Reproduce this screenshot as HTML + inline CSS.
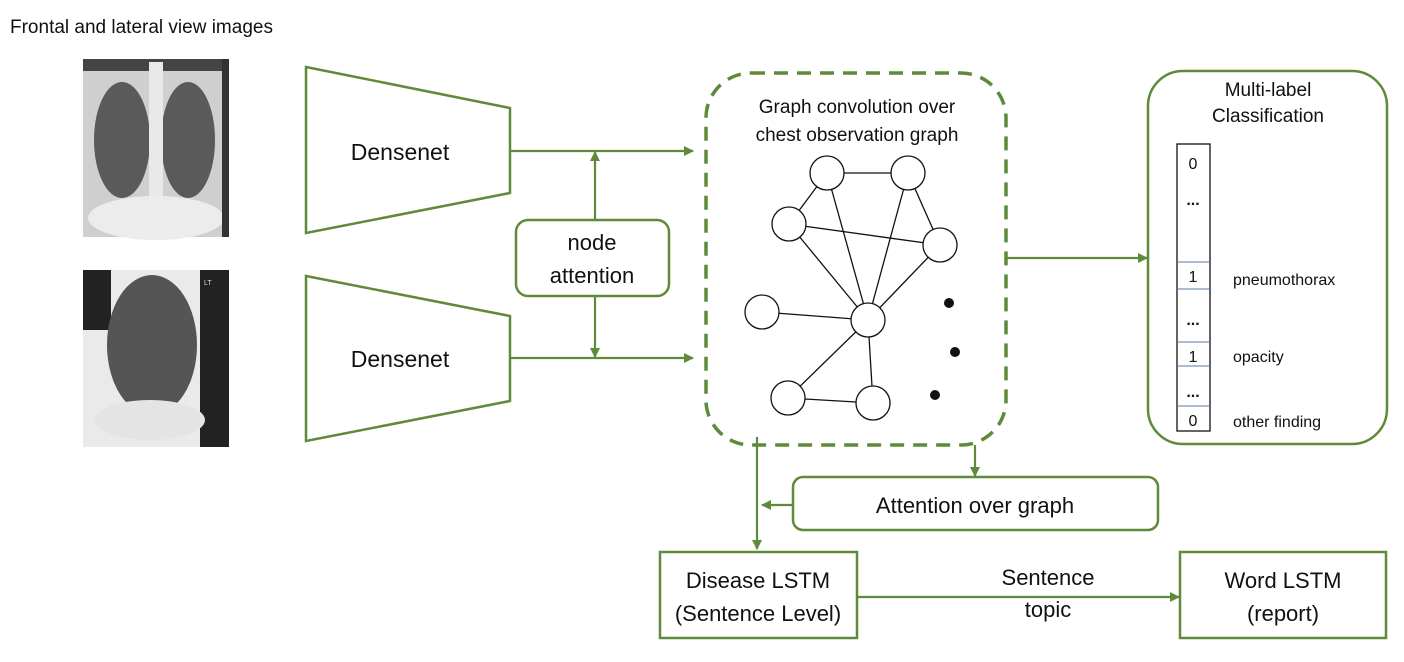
<!DOCTYPE html>
<html><head><meta charset="utf-8"><style>
html,body{margin:0;padding:0;background:#fff;}
svg{display:block;}
text{font-family:"Liberation Sans",sans-serif;fill:#111;}
</style></head><body>
<svg width="1404" height="662" viewBox="0 0 1404 662" xmlns="http://www.w3.org/2000/svg">
<defs>
<marker id="ah" markerWidth="10" markerHeight="10" refX="9" refY="5" orient="auto" markerUnits="userSpaceOnUse">
<path d="M0,0 L10,5 L0,10 z" fill="#5f8a3a"/>
</marker>
<radialGradient id="lung" cx="50%" cy="45%" r="60%">
<stop offset="0" stop-color="#777"/><stop offset="0.6" stop-color="#555"/><stop offset="1" stop-color="#bbb"/>
</radialGradient>
<linearGradient id="belly" x1="0" y1="0" x2="0" y2="1">
<stop offset="0" stop-color="#666"/><stop offset="0.7" stop-color="#ddd"/><stop offset="1" stop-color="#eee"/>
</linearGradient>
</defs>
<rect width="1404" height="662" fill="#fff"/>
<text x="10" y="33" font-size="19">Frontal and lateral view images</text>

<!-- frontal xray -->
<rect x="83" y="59" width="146" height="178" fill="#cfcfcf"/>
<rect x="83" y="59" width="146" height="12" fill="#444"/>
<ellipse cx="122" cy="140" rx="28" ry="58" fill="#5a5a5a"/>
<ellipse cx="188" cy="140" rx="27" ry="58" fill="#5a5a5a"/>
<rect x="149" y="62" width="14" height="175" fill="#e8e8e8"/>
<ellipse cx="156" cy="218" rx="68" ry="22" fill="#ececec"/>
<rect x="222" y="59" width="7" height="178" fill="#333"/>

<!-- lateral xray -->
<rect x="83" y="270" width="146" height="177" fill="#eaeaea"/>
<rect x="83" y="270" width="28" height="60" fill="#222"/>
<rect x="200" y="270" width="29" height="177" fill="#222"/>
<ellipse cx="152" cy="345" rx="45" ry="70" fill="#555"/>
<ellipse cx="150" cy="420" rx="55" ry="20" fill="#e4e4e4"/>
<text x="204" y="285" font-size="7" style="fill:#ddd">LT</text>

<g fill="none" stroke="#5f8a3a" stroke-width="2.5">
<polygon points="306,67 510,108 510,193 306,233"/>
<polygon points="306,276 510,316 510,401 306,441"/>
<rect x="516" y="220" width="153" height="76" rx="12"/>
<rect x="706" y="73" width="300" height="372" rx="45" stroke-width="3.5" stroke-dasharray="14,9"/>
<rect x="1148" y="71" width="239" height="373" rx="35"/>
<rect x="793" y="477" width="365" height="53" rx="10"/>
<rect x="660" y="552" width="197" height="86"/>
<rect x="1180" y="552" width="206" height="86"/>
</g>
<g stroke="#5f8a3a" stroke-width="2.2" fill="none" marker-end="url(#ah)">
<line x1="510" y1="151" x2="693" y2="151"/>
<line x1="510" y1="358" x2="693" y2="358"/>
<line x1="595" y1="220" x2="595" y2="152"/>
<line x1="595" y1="296" x2="595" y2="357"/>
<line x1="1006" y1="258" x2="1147" y2="258"/>
<line x1="757" y1="437" x2="757" y2="549"/>
<line x1="975" y1="445" x2="975" y2="476"/>
<line x1="793" y1="505" x2="762" y2="505"/>
<line x1="857" y1="597" x2="1179" y2="597"/>
</g>

<text x="400" y="160" font-size="23" text-anchor="middle">Densenet</text>
<text x="400" y="367" font-size="23" text-anchor="middle">Densenet</text>
<text x="592" y="250" font-size="22" text-anchor="middle">node</text>
<text x="592" y="283" font-size="22" text-anchor="middle">attention</text>
<text x="857" y="113" font-size="19" text-anchor="middle">Graph convolution over</text>
<text x="857" y="141" font-size="19" text-anchor="middle">chest observation graph</text>

<g stroke="#111" stroke-width="1.3">
<line x1="827" y1="173" x2="908" y2="173"/>
<line x1="827" y1="173" x2="789" y2="224"/>
<line x1="827" y1="173" x2="868" y2="320"/>
<line x1="908" y1="173" x2="868" y2="320"/>
<line x1="908" y1="173" x2="940" y2="245"/>
<line x1="789" y1="224" x2="940" y2="245"/>
<line x1="789" y1="224" x2="868" y2="320"/>
<line x1="940" y1="245" x2="868" y2="320"/>
<line x1="762" y1="312" x2="868" y2="320"/>
<line x1="868" y1="320" x2="788" y2="398"/>
<line x1="868" y1="320" x2="873" y2="403"/>
<line x1="788" y1="398" x2="873" y2="403"/>
</g>
<g fill="#fff" stroke="#111" stroke-width="1.3">
<circle cx="827" cy="173" r="17"/><circle cx="908" cy="173" r="17"/>
<circle cx="789" cy="224" r="17"/><circle cx="940" cy="245" r="17"/>
<circle cx="762" cy="312" r="17"/><circle cx="868" cy="320" r="17"/>
<circle cx="788" cy="398" r="17"/><circle cx="873" cy="403" r="17"/>
</g>
<circle cx="949" cy="303" r="5" fill="#111"/>
<circle cx="955" cy="352" r="5" fill="#111"/>
<circle cx="935" cy="395" r="5" fill="#111"/>

<text x="1268" y="96" font-size="19" text-anchor="middle">Multi-label</text>
<text x="1268" y="122" font-size="19" text-anchor="middle">Classification</text>
<rect x="1177" y="144" width="33" height="287" fill="none" stroke="#111" stroke-width="1.3"/>
<g stroke="#5577aa" stroke-width="1">
<line x1="1177" y1="262" x2="1210" y2="262"/><line x1="1177" y1="289" x2="1210" y2="289"/>
<line x1="1177" y1="342" x2="1210" y2="342"/><line x1="1177" y1="366" x2="1210" y2="366"/>
<line x1="1177" y1="406" x2="1210" y2="406"/>
</g>
<g font-size="16" text-anchor="middle">
<text x="1193" y="169">0</text>
<text x="1193" y="205" font-weight="bold">...</text>
<text x="1193" y="282">1</text>
<text x="1193" y="325" font-weight="bold">...</text>
<text x="1193" y="362">1</text>
<text x="1193" y="397" font-weight="bold">...</text>
<text x="1193" y="426">0</text>
</g>
<g font-size="16">
<text x="1233" y="285">pneumothorax</text>
<text x="1233" y="362">opacity</text>
<text x="1233" y="427">other finding</text>
</g>

<text x="975" y="513" font-size="22" text-anchor="middle">Attention over graph</text>
<text x="758" y="588" font-size="22" text-anchor="middle">Disease LSTM</text>
<text x="758" y="621" font-size="22" text-anchor="middle">(Sentence Level)</text>
<text x="1048" y="585" font-size="22" text-anchor="middle">Sentence</text>
<text x="1048" y="617" font-size="22" text-anchor="middle">topic</text>
<text x="1283" y="588" font-size="22" text-anchor="middle">Word LSTM</text>
<text x="1283" y="621" font-size="22" text-anchor="middle">(report)</text>
</svg>
</body></html>
